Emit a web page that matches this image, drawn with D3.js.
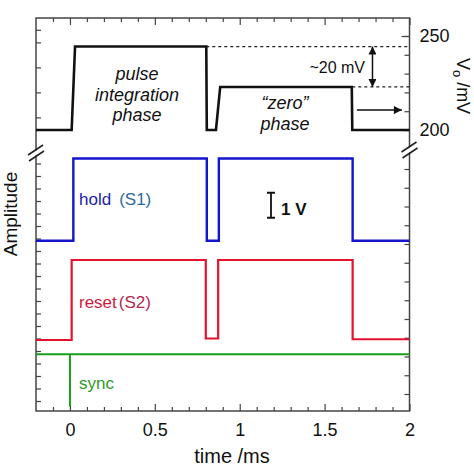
<!DOCTYPE html>
<html>
<head>
<meta charset="utf-8">
<script src="https://cdn.jsdelivr.net/npm/d3@7"></script>
<style>
  body { margin: 0; background: #fff; }
  text { font-family: "Liberation Sans", Arial, sans-serif; }
</style>
</head>
<body>
<script>
// time axis ticks
const majorTicks = [0, 0.5, 1, 1.5, 2]
const minorTicks = [-0.1, 0.1, 0.2, 0.3, 0.4, 0.6, 0.7, 0.8, 0.9, 1.1, 1.2, 1.3, 1.4, 1.6, 1.7, 1.8, 1.9]

// top panel: output voltage Vo in mV
const voTicks = [200, 210, 220, 230, 240, 250]
const voLabels = [200, 250]
const voLeftTicks = [253.3, 246.6, 233.3, 220, 206.7]
const tVo = [-0.2, 0.01, 0.03, 0.803, 0.806, 0.86, 0.885, 1.66, 1.663, 2]
const vVo = [200, 200, 244.4, 244.4, 200, 200, 222.9, 222.9, 200, 200]

// bottom panel: switch signals (amplitude, volts with offsets)
const ampLeftTicks = [0.4, 0.9, 1.4, 1.9, 2.4, 2.9, 3.4, 3.9, 4.4, 4.9, 5.4, 5.9, 6.4, 6.9, 7.4, 7.9, 8.4, 8.9, 9.4, 9.9]
const ampRightTicks = [0.68, 1.43, 2.18, 2.93, 3.68, 4.43, 5.18, 5.93, 6.68, 7.43, 8.18, 8.93, 9.68]

const tHold = [-0.2, 0.02, 0.02, 0.806, 0.806, 0.877, 0.877, 1.665, 1.665, 2]
const vHold = [6.81, 6.81, 10.1, 10.1, 6.81, 6.81, 10.1, 10.1, 6.81, 6.81]

const tReset = [-0.2, 0.01, 0.01, 0.8, 0.8, 0.873, 0.873, 1.665, 1.665, 2]
const vReset = [2.84, 2.84, 6.04, 6.04, 2.9, 2.9, 6.04, 6.04, 2.87, 2.87]

const tSync = [-0.2, 0, 0, 0, 2]
const vSync = [2.27, 2.27, 0.17, 2.27, 2.27]

const m = { width: 474, height: 474, left: 36, right: 409.5, top: 18, bottom: 411 }

const svg = d3.select('body').append('svg')
    .attr('width', m.width)
    .attr('height', m.height)

const x = d3.scaleLinear().domain([-0.2, 2]).range([m.left, m.right])
const yV = d3.scaleLinear().domain([200, 250]).range([130, 36])
const yA = d3.scaleLinear().domain([0, 10]).range([m.bottom, 161])

const axisColor = '#444'

function styleAxis(g) {
    g.select('.domain').remove()
    g.selectAll('.tick line').attr('stroke', axisColor).attr('stroke-width', 1.2)
    g.selectAll('.tick text')
        .attr('font-family', '"Liberation Sans", Arial, sans-serif')
        .attr('font-size', 18)
        .attr('fill', '#111')
}

// x axes, bottom and top, ticks inside
svg.append('g').attr('transform', `translate(0,${m.bottom})`)
    .call(d3.axisBottom(x).tickValues(minorTicks).tickSize(-4).tickFormat(''))
    .call(styleAxis)
svg.append('g').attr('transform', `translate(0,${m.bottom})`)
    .call(d3.axisBottom(x).tickValues(majorTicks).tickSize(-7).tickPadding(12).tickFormat(d => d))
    .call(styleAxis)
svg.append('g').attr('transform', `translate(0,${m.top})`)
    .call(d3.axisTop(x).tickValues(minorTicks).tickSize(-4).tickFormat(''))
    .call(styleAxis)
svg.append('g').attr('transform', `translate(0,${m.top})`)
    .call(d3.axisTop(x).tickValues(majorTicks).tickSize(-7).tickFormat(''))
    .call(styleAxis)

// right axis for Vo
svg.append('g').attr('transform', `translate(${m.right},0)`)
    .call(d3.axisRight(yV).tickValues(voTicks).tickSize(-5).tickFormat(''))
    .call(styleAxis)
svg.append('g').attr('transform', `translate(${m.right},0)`)
    .call(d3.axisRight(yV).tickValues(voLabels).tickSize(-8).tickPadding(10).tickFormat(d => d))
    .call(styleAxis)

// left ticks, top panel
svg.append('g').attr('transform', `translate(${m.left},0)`)
    .call(d3.axisLeft(yV).tickValues(voLeftTicks).tickSize(-5).tickFormat(''))
    .call(styleAxis)

// left / right ticks, bottom panel
svg.append('g').attr('transform', `translate(${m.left},0)`)
    .call(d3.axisLeft(yA).tickValues(ampLeftTicks).tickSize(-5).tickFormat(''))
    .call(styleAxis)
svg.append('g').attr('transform', `translate(${m.right},0)`)
    .call(d3.axisRight(yA).tickValues(ampRightTicks).tickSize(-5).tickFormat(''))
    .call(styleAxis)

// frame
svg.append('rect')
    .attr('x', m.left).attr('y', m.top)
    .attr('width', m.right - m.left).attr('height', m.bottom - m.top)
    .attr('fill', 'none')
    .attr('stroke', axisColor)
    .attr('stroke-width', 1.5)

// dotted reference lines
svg.append('line')
    .attr('x1', x(0.803)).attr('x2', m.right)
    .attr('y1', yV(244.4)).attr('y2', yV(244.4))
    .attr('stroke', '#222').attr('stroke-width', 1.3).attr('stroke-dasharray', '3,3')
svg.append('line')
    .attr('x1', x(1.663)).attr('x2', m.right)
    .attr('y1', yV(222.9)).attr('y2', yV(222.9))
    .attr('stroke', '#222').attr('stroke-width', 1.3).attr('stroke-dasharray', '3,3')

// the traces
const line = d3.line()
const addTrace = (ts, vs, yScale, color, w) => {
    svg.append('path')
        .attr('d', line(ts.map((t, i) => [x(t), yScale(vs[i])])))
        .attr('fill', 'none')
        .attr('stroke', color)
        .attr('stroke-width', w)
        .attr('stroke-linejoin', 'miter')
}
addTrace(tSync, vSync, yA, '#1c9e1c', 2)
addTrace(tReset, vReset, yA, '#e3122e', 2.2)
addTrace(tHold, vHold, yA, '#1414cc', 2.4)
addTrace(tVo, vVo, yV, '#111', 2.6)

// arrow markers
const defs = svg.append('defs')
defs.append('marker')
    .attr('id', 'head')
    .attr('viewBox', '0 0 10 10')
    .attr('refX', 10).attr('refY', 5)
    .attr('markerWidth', 10).attr('markerHeight', 8)
    .attr('markerUnits', 'userSpaceOnUse')
    .attr('orient', 'auto-start-reverse')
    .append('path').attr('d', 'M0,0L10,5L0,10Z').attr('fill', '#111')
defs.append('marker')
    .attr('id', 'head2')
    .attr('viewBox', '0 0 10 10')
    .attr('refX', 10).attr('refY', 5)
    .attr('markerWidth', 14).attr('markerHeight', 8)
    .attr('markerUnits', 'userSpaceOnUse')
    .attr('orient', 'auto')
    .append('path').attr('d', 'M0,0L10,5L0,10Z').attr('fill', '#111')

// ~20 mV double arrow
svg.append('line')
    .attr('x1', x(1.782)).attr('x2', x(1.782))
    .attr('y1', yV(244.4)).attr('y2', yV(222.9))
    .attr('stroke', '#111').attr('stroke-width', 1.5)
    .attr('marker-start', 'url(#head)')
    .attr('marker-end', 'url(#head)')

// horizontal arrow
svg.append('line')
    .attr('x1', x(1.69)).attr('x2', x(1.955))
    .attr('y1', yV(210.6)).attr('y2', yV(210.6))
    .attr('stroke', '#111').attr('stroke-width', 1.5)
    .attr('marker-end', 'url(#head2)')

// axis break marks
const breakMark = (cx, cy) => {
    const g = svg.append('g').attr('transform', `translate(${cx},${cy})`)
    g.append('polygon')
        .attr('points', '-8,3 7,-7 8,-3 -7,7')
        .attr('fill', '#fff')
    g.append('line').attr('x1', -8).attr('y1', 2).attr('x2', 7).attr('y2', -8)
        .attr('stroke', '#222').attr('stroke-width', 1.6)
    g.append('line').attr('x1', -7).attr('y1', 8).attr('x2', 8).attr('y2', -2)
        .attr('stroke', '#222').attr('stroke-width', 1.6)
}
breakMark(m.left, 153)
breakMark(m.right, 150)

// text annotations
const phaseText = (cx, lines, y0) => {
    const t = svg.append('text')
        .attr('text-anchor', 'middle')
        .attr('font-style', 'italic')
        .attr('font-size', 18)
        .attr('fill', '#111')
    lines.forEach((s, i) => {
        t.append('tspan').attr('x', cx).attr('y', y0 + i * 20.5).text(s)
    })
}
phaseText(137, ['pulse', 'integration', 'phase'], 80)
phaseText(285, ['\u201Czero\u201D', 'phase'], 109)

svg.append('text')
    .attr('x', 365).attr('y', 73)
    .attr('text-anchor', 'end')
    .attr('font-size', 16)
    .attr('fill', '#111')
    .text('~20 mV')

// channel labels
const chanLabel = (y, name, sub, c1, c2, gap) => {
    const t = svg.append('text').attr('x', 79).attr('y', y).attr('font-size', 17)
    t.append('tspan').attr('fill', c1).text(name)
    t.append('tspan').attr('fill', c2).attr('dx', gap).text(sub)
}
chanLabel(205, 'hold', '(S1)', '#1c1cb0', '#2b6a9e', 8)
chanLabel(308, 'reset', '(S2)', '#cf1a40', '#b0284e', 2)
svg.append('text')
    .attr('x', 79).attr('y', 389)
    .attr('font-size', 17)
    .attr('fill', '#2f9a2a')
    .text('sync')

// 1 V scale bar
svg.append('path')
    .attr('d', `M${267},${yA(8.73)}H${275}M${271},${yA(8.73)}V${yA(7.73)}M${267},${yA(7.73)}H${275}`)
    .attr('stroke', '#111').attr('stroke-width', 1.8).attr('fill', 'none')
svg.append('text')
    .attr('x', 281).attr('y', 215)
    .attr('font-size', 17)
    .attr('font-weight', 'bold')
    .attr('fill', '#111')
    .text('1 V')

// axis titles
svg.append('text')
    .attr('x', 232).attr('y', 463)
    .attr('text-anchor', 'middle')
    .attr('font-size', 20)
    .attr('fill', '#111')
    .text('time /ms')

svg.append('text')
    .attr('transform', 'translate(17,214)rotate(-90)')
    .attr('text-anchor', 'middle')
    .attr('font-size', 19)
    .attr('fill', '#111')
    .text('Amplitude')

const vo = svg.append('text')
    .attr('transform', 'translate(457,86)rotate(90)')
    .attr('text-anchor', 'middle')
    .attr('font-size', 18)
    .attr('fill', '#111')
vo.append('tspan').text('V')
vo.append('tspan').attr('font-size', 13).attr('dy', 4).text('o')
vo.append('tspan').attr('dy', -4).text(' /mV')
</script>
</body>
</html>
